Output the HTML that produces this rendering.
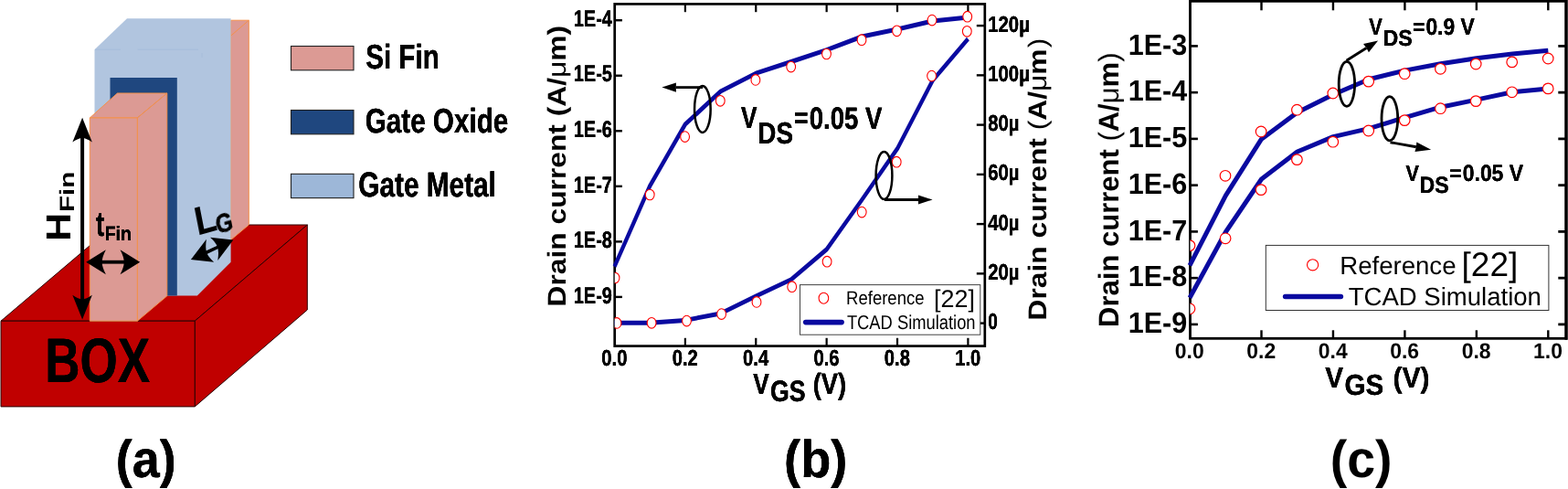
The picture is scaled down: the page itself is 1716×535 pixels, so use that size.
<!DOCTYPE html>
<html lang="en"><head><meta charset="utf-8"><title>FinFET structure and transfer characteristics</title>
<style>
html,body{margin:0;padding:0;background:#fff;}
body{width:1716px;height:535px;overflow:hidden;}
svg{display:block;font-family:'Liberation Sans', sans-serif;}
</style></head>
<body>
<svg width="1716" height="535" viewBox="0 0 1716 535" text-rendering="geometricPrecision">
<defs><filter id="fat" x="-10%" y="-30%" width="120%" height="160%"><feOffset dx="-0.5" dy="0" in="SourceGraphic" result="a"/><feOffset dx="0.5" dy="0" in="SourceGraphic" result="b"/><feMerge><feMergeNode in="a"/><feMergeNode in="b"/><feMergeNode in="SourceGraphic"/></feMerge></filter></defs>
<rect x="0" y="0" width="1716" height="535" fill="#fff"/>
<polygon points="1.00,351.20 125.00,246.00 336.30,246.00 213.20,351.20" fill="#C00000" stroke="#2a0000" stroke-width="1" stroke-linejoin="round"/>
<polygon points="213.20,351.20 336.30,246.00 336.30,339.00 213.20,444.90" fill="#C00000" stroke="#2a0000" stroke-width="1" stroke-linejoin="round"/>
<polygon points="1.00,351.20 213.20,351.20 213.20,444.90 1.00,444.90" fill="#C00000" stroke="#2a0000" stroke-width="1" stroke-linejoin="round"/>
<polygon points="252.60,22.20 272.30,22.20 272.30,246.00 252.60,262.50" fill="#DC9A94" stroke="#F4914A" stroke-width="1" stroke-linejoin="round"/>
<line x1="252.60" y1="39.20" x2="272.30" y2="22.20" stroke="#F4914A" stroke-width="1"/>
<polygon points="103.50,54.20 139.00,20.30 252.60,20.30 252.60,286.70 215.80,323.60 103.50,323.50" fill="#B1C5DF" stroke="none" stroke-width="1" stroke-linejoin="round"/>
<path d="M104 54.2 H132 M150.6 54.2 H217 M221 58 V63" stroke="#a3b9d8" stroke-width="1" fill="none" opacity="0.7"/>
<polygon points="120.50,85.00 193.80,85.00 193.80,323.50 120.50,323.50" fill="#1F477F" stroke="none" stroke-width="1" stroke-linejoin="round"/>
<polygon points="98.30,129.00 128.40,102.00 182.80,102.00 150.30,129.00" fill="#DC9A94" stroke="#F4914A" stroke-width="1" stroke-linejoin="round"/>
<polygon points="150.30,129.00 182.80,102.00 182.80,323.80 150.30,351.20" fill="#DC9A94" stroke="#F4914A" stroke-width="1" stroke-linejoin="round"/>
<polygon points="98.30,129.00 150.30,129.00 150.30,351.20 98.30,351.20" fill="#DC9A94" stroke="#F4914A" stroke-width="1" stroke-linejoin="round"/>
<g transform="translate(90.10,239.10) scale(1.0000,1) rotate(90)" fill="#000" stroke="none"><rect x="-89.10" y="-2.00" width="178.20" height="4.00"/><path d="M110.30,0 L83.60,-10.75 Q88.10,-4.30 88.10,0 Q88.10,4.30 83.60,10.75 Z"/><path d="M-110.30,0 L-83.60,-10.75 Q-88.10,-4.30 -88.10,0 Q-88.10,4.30 -83.60,10.75 Z"/></g>
<text transform="translate(76.60,263.70) scale(0.8890,1.0000) rotate(-90)" font-size="42.7" font-weight="bold" text-anchor="start" fill="#000">H</text>
<text transform="translate(81.40,232.00) scale(0.7620,1.0000) rotate(-90)" font-size="29.5" font-weight="bold" text-anchor="start" fill="#000">Fin</text>
<text transform="translate(105.00,257.90) scale(0.7314,1.0000)" font-size="37.9" font-weight="bold" text-anchor="start" fill="#000" filter="url(#fat)">t</text>
<text transform="translate(114.65,262.90) scale(0.8861,1.0000)" font-size="22.07" font-weight="bold" text-anchor="start" fill="#000" filter="url(#fat)">Fin</text>
<g transform="translate(123.70,286.70) scale(0.8400,1) rotate(0)" fill="#000" stroke="none"><rect x="-15.32" y="-1.90" width="30.64" height="3.80"/><path d="M35.12,0 L9.32,-13.50 Q14.32,-5.40 14.32,0 Q14.32,5.40 9.32,13.50 Z"/><path d="M-35.12,0 L-9.32,-13.50 Q-14.32,-5.40 -14.32,0 Q-14.32,5.40 -9.32,13.50 Z"/></g>
<g transform="translate(216.6,257.6) scale(0.84,1) rotate(-13.2)"><text font-size="44" font-weight="bold" filter="url(#fat)">L</text><text x="25.3" y="4.3" font-size="28.5" font-weight="bold" filter="url(#fat)">G</text></g>
<g transform="translate(232.10,273.30) scale(0.8400,1) rotate(-21.357212080119947)" fill="#000" stroke="none"><rect x="-8.66" y="-1.80" width="17.31" height="3.60"/><path d="M29.66,0 L2.66,-13.50 Q7.66,-5.40 7.66,0 Q7.66,5.40 2.66,13.50 Z"/><path d="M-29.66,0 L-2.66,-13.50 Q-7.66,-5.40 -7.66,0 Q-7.66,5.40 -2.66,13.50 Z"/></g>
<text transform="translate(49.25,418.10) scale(0.7722,1.0000)" font-size="68.7" font-weight="bold" text-anchor="start" fill="#000" filter="url(#fat)">BOX</text>
<rect x="318.5" y="50.5" width="68.5" height="26.3" fill="#DC9A94" stroke="#222" stroke-width="1.1"/>
<rect x="318.5" y="120.5" width="68.5" height="26.3" fill="#1F477F" stroke="#222" stroke-width="1.1"/>
<rect x="318.5" y="190.3" width="68.5" height="26.3" fill="#9DB7D8" stroke="#222" stroke-width="1.1"/>
<text transform="translate(400.20,75.00) scale(0.7849,1.0000)" font-size="37.7" font-weight="bold" text-anchor="start" fill="#000" filter="url(#fat)">Si Fin</text>
<text transform="translate(399.70,145.00) scale(0.7869,1.0000)" font-size="37.7" font-weight="bold" text-anchor="start" fill="#000" filter="url(#fat)">Gate Oxide</text>
<text transform="translate(392.30,215.10) scale(0.7798,1.0000)" font-size="38.2" font-weight="bold" text-anchor="start" fill="#000" filter="url(#fat)">Gate Metal</text>
<text transform="translate(126.70,521.60) scale(0.9406,1.0000)" font-size="57.4" font-weight="bold" text-anchor="start" fill="#000" filter="url(#fat)">(a)</text>
<rect x="672.70" y="4.40" width="405.10" height="374.20" fill="none" stroke="#000" stroke-width="2.7"/>
<line x1="672.70" y1="22.20" x2="680.90" y2="22.20" stroke="#000" stroke-width="2.4"/>
<line x1="672.70" y1="82.74" x2="680.90" y2="82.74" stroke="#000" stroke-width="2.4"/>
<line x1="672.70" y1="143.28" x2="680.90" y2="143.28" stroke="#000" stroke-width="2.4"/>
<line x1="672.70" y1="203.82" x2="680.90" y2="203.82" stroke="#000" stroke-width="2.4"/>
<line x1="672.70" y1="264.36" x2="680.90" y2="264.36" stroke="#000" stroke-width="2.4"/>
<line x1="672.70" y1="324.90" x2="680.90" y2="324.90" stroke="#000" stroke-width="2.4"/>
<line x1="1068.80" y1="28.10" x2="1077.80" y2="28.10" stroke="#000" stroke-width="2.4"/>
<line x1="1068.80" y1="82.35" x2="1077.80" y2="82.35" stroke="#000" stroke-width="2.4"/>
<line x1="1068.80" y1="136.60" x2="1077.80" y2="136.60" stroke="#000" stroke-width="2.4"/>
<line x1="1068.80" y1="190.85" x2="1077.80" y2="190.85" stroke="#000" stroke-width="2.4"/>
<line x1="1068.80" y1="245.10" x2="1077.80" y2="245.10" stroke="#000" stroke-width="2.4"/>
<line x1="1068.80" y1="299.35" x2="1077.80" y2="299.35" stroke="#000" stroke-width="2.4"/>
<line x1="1068.80" y1="353.60" x2="1077.80" y2="353.60" stroke="#000" stroke-width="2.4"/>
<line x1="749.88" y1="378.60" x2="749.88" y2="369.80" stroke="#000" stroke-width="2.2"/>
<line x1="749.88" y1="4.40" x2="749.88" y2="13.20" stroke="#000" stroke-width="2.2"/>
<line x1="827.26" y1="378.60" x2="827.26" y2="369.80" stroke="#000" stroke-width="2.2"/>
<line x1="827.26" y1="4.40" x2="827.26" y2="13.20" stroke="#000" stroke-width="2.2"/>
<line x1="904.64" y1="378.60" x2="904.64" y2="369.80" stroke="#000" stroke-width="2.2"/>
<line x1="904.64" y1="4.40" x2="904.64" y2="13.20" stroke="#000" stroke-width="2.2"/>
<line x1="982.02" y1="378.60" x2="982.02" y2="369.80" stroke="#000" stroke-width="2.2"/>
<line x1="982.02" y1="4.40" x2="982.02" y2="13.20" stroke="#000" stroke-width="2.2"/>
<line x1="1059.40" y1="378.60" x2="1059.40" y2="369.80" stroke="#000" stroke-width="2.2"/>
<line x1="1059.40" y1="4.40" x2="1059.40" y2="13.20" stroke="#000" stroke-width="2.2"/>
<text transform="translate(627.70,28.90) scale(0.7846,1.0000)" font-size="25.5" font-weight="bold" text-anchor="start" fill="#000" filter="url(#fat)">1E-4</text>
<text transform="translate(627.70,89.44) scale(0.7845,1.0000)" font-size="25.5" font-weight="bold" text-anchor="start" fill="#000" filter="url(#fat)">1E-5</text>
<text transform="translate(627.70,149.98) scale(0.7844,1.0000)" font-size="25.5" font-weight="bold" text-anchor="start" fill="#000" filter="url(#fat)">1E-6</text>
<text transform="translate(627.70,210.52) scale(0.7844,1.0000)" font-size="25.5" font-weight="bold" text-anchor="start" fill="#000" filter="url(#fat)">1E-7</text>
<text transform="translate(627.70,271.06) scale(0.7844,1.0000)" font-size="25.5" font-weight="bold" text-anchor="start" fill="#000" filter="url(#fat)">1E-8</text>
<text transform="translate(627.70,331.60) scale(0.7844,1.0000)" font-size="25.5" font-weight="bold" text-anchor="start" fill="#000" filter="url(#fat)">1E-9</text>
<text transform="translate(1081.20,34.60) scale(0.8249,1.0000)" font-size="24.7" font-weight="bold" text-anchor="start" fill="#000" filter="url(#fat)">120µ</text>
<text transform="translate(1081.20,88.85) scale(0.8249,1.0000)" font-size="24.7" font-weight="bold" text-anchor="start" fill="#000" filter="url(#fat)">100µ</text>
<text transform="translate(1081.20,143.10) scale(0.8201,1.0000)" font-size="24.7" font-weight="bold" text-anchor="start" fill="#000" filter="url(#fat)">80µ</text>
<text transform="translate(1081.20,197.35) scale(0.8200,1.0000)" font-size="24.7" font-weight="bold" text-anchor="start" fill="#000" filter="url(#fat)">60µ</text>
<text transform="translate(1081.20,251.60) scale(0.8203,1.0000)" font-size="24.7" font-weight="bold" text-anchor="start" fill="#000" filter="url(#fat)">40µ</text>
<text transform="translate(1081.20,305.85) scale(0.8200,1.0000)" font-size="24.7" font-weight="bold" text-anchor="start" fill="#000" filter="url(#fat)">20µ</text>
<text transform="translate(1081.20,360.10) scale(0.7718,1.0000)" font-size="24.7" font-weight="bold" text-anchor="start" fill="#000" filter="url(#fat)">0</text>
<text transform="translate(658.30,399.70) scale(0.8115,1.0000)" font-size="24.9" font-weight="bold" text-anchor="start" fill="#000" filter="url(#fat)">0.0</text>
<text transform="translate(735.68,399.70) scale(0.8115,1.0000)" font-size="24.9" font-weight="bold" text-anchor="start" fill="#000" filter="url(#fat)">0.2</text>
<text transform="translate(813.06,399.70) scale(0.8121,1.0000)" font-size="24.9" font-weight="bold" text-anchor="start" fill="#000" filter="url(#fat)">0.4</text>
<text transform="translate(890.44,399.70) scale(0.8116,1.0000)" font-size="24.9" font-weight="bold" text-anchor="start" fill="#000" filter="url(#fat)">0.6</text>
<text transform="translate(967.82,399.70) scale(0.8117,1.0000)" font-size="24.9" font-weight="bold" text-anchor="start" fill="#000" filter="url(#fat)">0.8</text>
<text transform="translate(1045.20,399.70) scale(0.8110,1.0000)" font-size="24.9" font-weight="bold" text-anchor="start" fill="#000" filter="url(#fat)">1.0</text>
<text transform="translate(619.30,335.50) scale(0.8850,1) rotate(-90)" font-size="31.75" font-weight="bold">Drain current <tspan font-weight="bold">(</tspan>A/<tspan font-weight="normal">μ</tspan>m<tspan font-weight="bold" dx="0">)</tspan></text>
<text transform="translate(1145.00,350.50) scale(0.8850,1) rotate(-90)" font-size="31.75" font-weight="bold">Drain current <tspan font-weight="normal">(</tspan>A/<tspan font-weight="normal">μ</tspan>m<tspan font-weight="normal" dx="1.2">)</tspan></text>
<text transform="translate(824.30,430.90) scale(0.8149,1.0000)" font-size="32.15" font-weight="bold" text-anchor="start" fill="#000" filter="url(#fat)">V</text>
<text transform="translate(842.90,438.50) scale(0.8210,1.0000)" font-size="32.6" font-weight="bold" text-anchor="start" fill="#000" filter="url(#fat)">GS</text>
<text transform="translate(889.65,430.60) scale(0.8504,1.0000)" font-size="32.2" font-weight="bold" text-anchor="start" fill="#000" filter="url(#fat)">(V)</text>
<polyline points="800.60,291.70 846.65,203.50 892.71,136.00 938.77,100.00 984.83,80.20 1030.89,67.50 1076.95,54.70 1123.01,40.00 1169.07,32.00 1215.13,23.00 1261.19,19.00" transform="scale(0.84,1)" fill="none" stroke="#0A0AA0" stroke-width="5.0" stroke-linejoin="round" stroke-linecap="butt"/>
<polyline points="800.60,353.30 846.65,353.30 892.71,350.40 938.77,343.00 984.83,324.00 1030.89,305.70 1076.95,272.90 1123.01,218.50 1169.07,162.70 1215.13,88.00 1261.19,42.50" transform="scale(0.84,1)" fill="none" stroke="#0A0AA0" stroke-width="5.0" stroke-linejoin="round" stroke-linecap="butt"/>
<clipPath id="cb"><rect x="672.7" y="0" width="500" height="400"/></clipPath>
<g clip-path="url(#cb)">
<ellipse cx="673.00" cy="304.00" rx="4.9" ry="5.8" fill="#fff" stroke="#FF0000" stroke-width="1.1"/>
<ellipse cx="711.20" cy="213.00" rx="4.9" ry="5.8" fill="#fff" stroke="#FF0000" stroke-width="1.1"/>
<ellipse cx="749.60" cy="149.60" rx="4.9" ry="5.8" fill="#fff" stroke="#FF0000" stroke-width="1.1"/>
<ellipse cx="788.30" cy="110.30" rx="4.9" ry="5.8" fill="#fff" stroke="#FF0000" stroke-width="1.1"/>
<ellipse cx="826.90" cy="87.40" rx="4.9" ry="5.8" fill="#fff" stroke="#FF0000" stroke-width="1.1"/>
<ellipse cx="865.70" cy="73.10" rx="4.9" ry="5.8" fill="#fff" stroke="#FF0000" stroke-width="1.1"/>
<ellipse cx="904.50" cy="59.00" rx="4.9" ry="5.8" fill="#fff" stroke="#FF0000" stroke-width="1.1"/>
<ellipse cx="943.00" cy="43.70" rx="4.9" ry="5.8" fill="#fff" stroke="#FF0000" stroke-width="1.1"/>
<ellipse cx="981.50" cy="33.80" rx="4.9" ry="5.8" fill="#fff" stroke="#FF0000" stroke-width="1.1"/>
<ellipse cx="1020.00" cy="22.10" rx="4.9" ry="5.8" fill="#fff" stroke="#FF0000" stroke-width="1.1"/>
<ellipse cx="1058.70" cy="18.20" rx="4.9" ry="5.8" fill="#fff" stroke="#FF0000" stroke-width="1.1"/>
<ellipse cx="675.00" cy="353.40" rx="4.9" ry="5.8" fill="#fff" stroke="#FF0000" stroke-width="1.1"/>
<ellipse cx="713.10" cy="353.30" rx="4.9" ry="5.8" fill="#fff" stroke="#FF0000" stroke-width="1.1"/>
<ellipse cx="751.50" cy="351.10" rx="4.9" ry="5.8" fill="#fff" stroke="#FF0000" stroke-width="1.1"/>
<ellipse cx="789.60" cy="343.60" rx="4.9" ry="5.8" fill="#fff" stroke="#FF0000" stroke-width="1.1"/>
<ellipse cx="828.00" cy="330.40" rx="4.9" ry="5.8" fill="#fff" stroke="#FF0000" stroke-width="1.1"/>
<ellipse cx="866.70" cy="313.70" rx="4.9" ry="5.8" fill="#fff" stroke="#FF0000" stroke-width="1.1"/>
<ellipse cx="905.10" cy="286.20" rx="4.9" ry="5.8" fill="#fff" stroke="#FF0000" stroke-width="1.1"/>
<ellipse cx="943.20" cy="232.10" rx="4.9" ry="5.8" fill="#fff" stroke="#FF0000" stroke-width="1.1"/>
<ellipse cx="981.20" cy="177.20" rx="4.9" ry="5.8" fill="#fff" stroke="#FF0000" stroke-width="1.1"/>
<ellipse cx="1019.60" cy="83.10" rx="4.9" ry="5.8" fill="#fff" stroke="#FF0000" stroke-width="1.1"/>
<ellipse cx="1058.30" cy="34.30" rx="4.9" ry="5.8" fill="#fff" stroke="#FF0000" stroke-width="1.1"/>
</g>
<rect x="875.5" y="311.6" width="197.3" height="54.6" fill="#fff" stroke="#444" stroke-width="1"/>
<ellipse cx="901.40" cy="326.20" rx="5.3" ry="6.0" fill="#fff" stroke="#FF0000" stroke-width="1.1"/>
<text transform="translate(926.10,333.10) scale(0.8920,1.0000)" font-size="20.75" font-weight="normal" text-anchor="start" fill="#000">Reference</text>
<text transform="translate(1022.00,336.00)" font-size="26.9" font-weight="normal" text-anchor="start" fill="#000">[22]</text>
<line x1="881.7" y1="352.6" x2="921.1" y2="352.6" stroke="#0A0AA0" stroke-width="5.6" stroke-linecap="round"/>
<text transform="translate(926.90,360.00) scale(0.8480,1.0000)" font-size="21.63" font-weight="normal" text-anchor="start" fill="#000">TCAD Simulation</text>
<ellipse cx="768.85" cy="119.40" rx="8.8" ry="25.5" fill="none" stroke="#000" stroke-width="2.5" transform="rotate(0 768.85 119.40)"/>
<line x1="769.00" y1="95.60" x2="739.90" y2="95.60" stroke="#000" stroke-width="2.8"/>
<polygon points="724.40,95.60 739.90,100.80 739.90,95.60 739.90,90.40" fill="#000" stroke="none" stroke-width="1" stroke-linejoin="round"/>
<ellipse cx="967.50" cy="192.00" rx="8.9" ry="26.1" fill="none" stroke="#000" stroke-width="2.5" transform="rotate(0 967.50 192.00)"/>
<line x1="968.00" y1="218.50" x2="1005.00" y2="218.50" stroke="#000" stroke-width="2.8"/>
<polygon points="1020.50,218.50 1005.00,213.40 1005.00,218.50 1005.00,223.60" fill="#000" stroke="none" stroke-width="1" stroke-linejoin="round"/>
<text transform="translate(811.10,140.30) scale(0.7928,1.0000)" font-size="33.0" font-weight="bold" text-anchor="start" fill="#000" filter="url(#fat)">V</text>
<text transform="translate(829.30,157.00) scale(0.8382,1.0000)" font-size="33.2" font-weight="bold" text-anchor="start" fill="#000" filter="url(#fat)">DS</text>
<text transform="translate(869.00,139.00) scale(0.7942,0.9000)" font-size="33.5" font-weight="bold" text-anchor="start" fill="#000" filter="url(#fat)">=</text>
<text transform="translate(885.70,140.70) scale(0.8147,1.0000)" font-size="33.9" font-weight="bold" text-anchor="start" fill="#000" filter="url(#fat)">0.05 V</text>
<text transform="translate(858.10,521.80) scale(0.9442,1.0000)" font-size="57.4" font-weight="bold" text-anchor="start" fill="#000" filter="url(#fat)">(b)</text>
<rect x="1302.50" y="1.30" width="411.40" height="369.00" fill="none" stroke="#000" stroke-width="2.8"/>
<line x1="1714.10" y1="-0.10" x2="1714.10" y2="371.70" stroke="#000" stroke-width="3.2"/>
<line x1="1302.50" y1="50.40" x2="1310.90" y2="50.40" stroke="#000" stroke-width="2.6"/>
<line x1="1705.30" y1="50.40" x2="1713.90" y2="50.40" stroke="#000" stroke-width="2.8"/>
<line x1="1302.50" y1="101.15" x2="1310.90" y2="101.15" stroke="#000" stroke-width="2.6"/>
<line x1="1705.30" y1="101.15" x2="1713.90" y2="101.15" stroke="#000" stroke-width="2.8"/>
<line x1="1302.50" y1="151.90" x2="1310.90" y2="151.90" stroke="#000" stroke-width="2.6"/>
<line x1="1705.30" y1="151.90" x2="1713.90" y2="151.90" stroke="#000" stroke-width="2.8"/>
<line x1="1302.50" y1="202.65" x2="1310.90" y2="202.65" stroke="#000" stroke-width="2.6"/>
<line x1="1705.30" y1="202.65" x2="1713.90" y2="202.65" stroke="#000" stroke-width="2.8"/>
<line x1="1302.50" y1="253.40" x2="1310.90" y2="253.40" stroke="#000" stroke-width="2.6"/>
<line x1="1705.30" y1="253.40" x2="1713.90" y2="253.40" stroke="#000" stroke-width="2.8"/>
<line x1="1302.50" y1="304.15" x2="1310.90" y2="304.15" stroke="#000" stroke-width="2.6"/>
<line x1="1705.30" y1="304.15" x2="1713.90" y2="304.15" stroke="#000" stroke-width="2.8"/>
<line x1="1302.50" y1="354.90" x2="1310.90" y2="354.90" stroke="#000" stroke-width="2.6"/>
<line x1="1705.30" y1="354.90" x2="1713.90" y2="354.90" stroke="#000" stroke-width="2.8"/>
<line x1="1380.50" y1="370.30" x2="1380.50" y2="361.30" stroke="#000" stroke-width="2.4"/>
<line x1="1380.50" y1="1.30" x2="1380.50" y2="11.30" stroke="#000" stroke-width="2.4"/>
<line x1="1458.95" y1="370.30" x2="1458.95" y2="361.30" stroke="#000" stroke-width="2.4"/>
<line x1="1458.95" y1="1.30" x2="1458.95" y2="11.30" stroke="#000" stroke-width="2.4"/>
<line x1="1537.40" y1="370.30" x2="1537.40" y2="361.30" stroke="#000" stroke-width="2.4"/>
<line x1="1537.40" y1="1.30" x2="1537.40" y2="11.30" stroke="#000" stroke-width="2.4"/>
<line x1="1615.85" y1="370.30" x2="1615.85" y2="361.30" stroke="#000" stroke-width="2.4"/>
<line x1="1615.85" y1="1.30" x2="1615.85" y2="11.30" stroke="#000" stroke-width="2.4"/>
<line x1="1694.30" y1="370.30" x2="1694.30" y2="361.30" stroke="#000" stroke-width="2.4"/>
<line x1="1694.30" y1="1.30" x2="1694.30" y2="11.30" stroke="#000" stroke-width="2.4"/>
<text transform="translate(1234.70,59.60) scale(0.9500,1.0000)" font-size="32.15" font-weight="bold" text-anchor="start" fill="#000">1E-3</text>
<text transform="translate(1234.70,110.35) scale(0.9500,1.0000)" font-size="32.15" font-weight="bold" text-anchor="start" fill="#000">1E-4</text>
<text transform="translate(1234.70,161.10) scale(0.9500,1.0000)" font-size="32.15" font-weight="bold" text-anchor="start" fill="#000">1E-5</text>
<text transform="translate(1234.70,211.85) scale(0.9500,1.0000)" font-size="32.15" font-weight="bold" text-anchor="start" fill="#000">1E-6</text>
<text transform="translate(1234.70,262.60) scale(0.9500,1.0000)" font-size="32.15" font-weight="bold" text-anchor="start" fill="#000">1E-7</text>
<text transform="translate(1234.70,313.35) scale(0.9500,1.0000)" font-size="32.15" font-weight="bold" text-anchor="start" fill="#000">1E-8</text>
<text transform="translate(1234.70,364.10) scale(0.9500,1.0000)" font-size="32.15" font-weight="bold" text-anchor="start" fill="#000">1E-9</text>
<text transform="translate(1285.85,392.46) scale(0.9660,1.0000)" font-size="23.75" font-weight="bold" text-anchor="start" fill="#000">0.0</text>
<text transform="translate(1364.30,392.46) scale(0.9660,1.0000)" font-size="23.75" font-weight="bold" text-anchor="start" fill="#000">0.2</text>
<text transform="translate(1442.75,392.46) scale(0.9660,1.0000)" font-size="23.75" font-weight="bold" text-anchor="start" fill="#000">0.4</text>
<text transform="translate(1521.20,392.46) scale(0.9660,1.0000)" font-size="23.75" font-weight="bold" text-anchor="start" fill="#000">0.6</text>
<text transform="translate(1599.65,392.46) scale(0.9660,1.0000)" font-size="23.75" font-weight="bold" text-anchor="start" fill="#000">0.8</text>
<text transform="translate(1678.10,392.46) scale(0.9660,1.0000)" font-size="23.75" font-weight="bold" text-anchor="start" fill="#000">1.0</text>
<text transform="translate(1224.40,357.90) scale(1.0000,1) rotate(-90)" font-size="31.0" font-weight="bold">Drain current <tspan font-weight="normal">(</tspan>A/<tspan font-weight="normal">μ</tspan>m<tspan font-weight="normal" dx="0">)</tspan></text>
<text transform="translate(1450.30,424.00) scale(0.9338,1.0000)" font-size="31.85" font-weight="bold" text-anchor="start" fill="#000" filter="url(#fat)">V</text>
<text transform="translate(1471.40,431.50) scale(0.9308,1.0000)" font-size="31.8" font-weight="bold" text-anchor="start" fill="#000" filter="url(#fat)">GS</text>
<text transform="translate(1524.40,423.70) scale(0.9479,1.0000)" font-size="31.85" font-weight="bold" text-anchor="start" fill="#000" filter="url(#fat)">(V)</text>
<polyline points="1302.05,290.40 1341.27,214.20 1380.50,152.20 1419.72,123.00 1458.95,103.50 1498.17,86.70 1537.40,77.10 1576.62,69.70 1615.85,63.70 1655.08,58.90 1694.30,55.30" fill="none" stroke="#0A0AA0" stroke-width="5" stroke-linejoin="round" stroke-linecap="butt"/>
<polyline points="1302.05,325.70 1341.27,254.00 1380.50,196.00 1419.72,166.00 1458.95,149.60 1498.17,140.60 1537.40,128.60 1576.62,117.20 1615.85,109.10 1655.08,100.80 1694.30,96.90" fill="none" stroke="#0A0AA0" stroke-width="5" stroke-linejoin="round" stroke-linecap="butt"/>
<clipPath id="cc"><rect x="1302.5" y="0" width="500" height="400"/></clipPath>
<g clip-path="url(#cc)">
<ellipse cx="1302.00" cy="268.60" rx="5.8" ry="5.8" fill="#fff" stroke="#FF0000" stroke-width="1.2"/>
<ellipse cx="1341.00" cy="192.30" rx="5.8" ry="5.8" fill="#fff" stroke="#FF0000" stroke-width="1.2"/>
<ellipse cx="1380.10" cy="144.00" rx="5.8" ry="5.8" fill="#fff" stroke="#FF0000" stroke-width="1.2"/>
<ellipse cx="1419.40" cy="120.20" rx="5.8" ry="5.8" fill="#fff" stroke="#FF0000" stroke-width="1.2"/>
<ellipse cx="1458.80" cy="102.00" rx="5.8" ry="5.8" fill="#fff" stroke="#FF0000" stroke-width="1.2"/>
<ellipse cx="1497.70" cy="89.10" rx="5.8" ry="5.8" fill="#fff" stroke="#FF0000" stroke-width="1.2"/>
<ellipse cx="1537.20" cy="80.70" rx="5.8" ry="5.8" fill="#fff" stroke="#FF0000" stroke-width="1.2"/>
<ellipse cx="1576.40" cy="75.30" rx="5.8" ry="5.8" fill="#fff" stroke="#FF0000" stroke-width="1.2"/>
<ellipse cx="1615.20" cy="70.00" rx="5.8" ry="5.8" fill="#fff" stroke="#FF0000" stroke-width="1.2"/>
<ellipse cx="1654.70" cy="67.90" rx="5.8" ry="5.8" fill="#fff" stroke="#FF0000" stroke-width="1.2"/>
<ellipse cx="1694.20" cy="64.00" rx="5.8" ry="5.8" fill="#fff" stroke="#FF0000" stroke-width="1.2"/>
<ellipse cx="1302.00" cy="337.80" rx="5.8" ry="5.8" fill="#fff" stroke="#FF0000" stroke-width="1.2"/>
<ellipse cx="1341.10" cy="260.80" rx="5.8" ry="5.8" fill="#fff" stroke="#FF0000" stroke-width="1.2"/>
<ellipse cx="1380.10" cy="207.60" rx="5.8" ry="5.8" fill="#fff" stroke="#FF0000" stroke-width="1.2"/>
<ellipse cx="1419.40" cy="174.60" rx="5.8" ry="5.8" fill="#fff" stroke="#FF0000" stroke-width="1.2"/>
<ellipse cx="1458.80" cy="155.20" rx="5.8" ry="5.8" fill="#fff" stroke="#FF0000" stroke-width="1.2"/>
<ellipse cx="1497.70" cy="143.00" rx="5.8" ry="5.8" fill="#fff" stroke="#FF0000" stroke-width="1.2"/>
<ellipse cx="1537.20" cy="131.60" rx="5.8" ry="5.8" fill="#fff" stroke="#FF0000" stroke-width="1.2"/>
<ellipse cx="1576.40" cy="118.70" rx="5.8" ry="5.8" fill="#fff" stroke="#FF0000" stroke-width="1.2"/>
<ellipse cx="1615.20" cy="110.60" rx="5.8" ry="5.8" fill="#fff" stroke="#FF0000" stroke-width="1.2"/>
<ellipse cx="1654.70" cy="100.80" rx="5.8" ry="5.8" fill="#fff" stroke="#FF0000" stroke-width="1.2"/>
<ellipse cx="1694.20" cy="96.90" rx="5.8" ry="5.8" fill="#fff" stroke="#FF0000" stroke-width="1.2"/>
</g>
<rect x="1385.3" y="268.4" width="309.6" height="71.1" fill="#fff" stroke="#333" stroke-width="1"/>
<ellipse cx="1436.60" cy="289.80" rx="6.1" ry="6.1" fill="#fff" stroke="#FF0000" stroke-width="1.1"/>
<text transform="translate(1466.20,299.50)" font-size="27.6" font-weight="normal" text-anchor="start" fill="#000">Reference</text>
<text transform="translate(1599.50,301.60)" font-size="37.1" font-weight="normal" text-anchor="start" fill="#000">[22]</text>
<line x1="1406.6" y1="324.4" x2="1467.4" y2="324.4" stroke="#0A0AA0" stroke-width="5.5" stroke-linecap="round"/>
<text transform="translate(1475.70,333.90) scale(0.9925,1.0000)" font-size="27.76" font-weight="normal" text-anchor="start" fill="#000">TCAD Simulation</text>
<ellipse cx="1473.90" cy="91.80" rx="8.7" ry="24.5" fill="none" stroke="#000" stroke-width="2.8" transform="rotate(0 1473.90 91.80)"/>
<line x1="1473.60" y1="66.20" x2="1495.42" y2="52.41" stroke="#000" stroke-width="2.9"/>
<polygon points="1508.10,44.40 1492.06,48.03 1495.42,52.41 1497.93,57.33" fill="#000" stroke="none" stroke-width="1" stroke-linejoin="round"/>
<ellipse cx="1520.85" cy="129.75" rx="8.85" ry="24.1" fill="none" stroke="#000" stroke-width="2.8" transform="rotate(0 1520.85 129.75)"/>
<line x1="1521.50" y1="155.70" x2="1549.86" y2="160.79" stroke="#000" stroke-width="2.9"/>
<polygon points="1566.10,163.70 1550.30,155.48 1549.86,160.79 1548.43,165.92" fill="#000" stroke="none" stroke-width="1" stroke-linejoin="round"/>
<text transform="translate(1498.30,37.80) scale(0.8539,1.0000)" font-size="25.45" font-weight="bold" text-anchor="start" fill="#000" filter="url(#fat)">V</text>
<text transform="translate(1513.40,50.20) scale(0.9361,1.0000)" font-size="24.8" font-weight="bold" text-anchor="start" fill="#000" filter="url(#fat)">DS</text>
<text transform="translate(1546.00,37.00) scale(0.8981,0.8800)" font-size="25.6" font-weight="bold" text-anchor="start" fill="#000" filter="url(#fat)">=</text>
<text transform="translate(1560.40,38.00) scale(0.8898,1.0000)" font-size="25.7" font-weight="bold" text-anchor="start" fill="#000" filter="url(#fat)">0.9 V</text>
<text transform="translate(1538.40,198.10) scale(0.8691,1.0000)" font-size="24.9" font-weight="bold" text-anchor="start" fill="#000" filter="url(#fat)">V</text>
<text transform="translate(1553.60,210.95) scale(0.9116,1.0000)" font-size="25.4" font-weight="bold" text-anchor="start" fill="#000" filter="url(#fat)">DS</text>
<text transform="translate(1586.30,197.00) scale(0.8978,0.8800)" font-size="25.4" font-weight="bold" text-anchor="start" fill="#000" filter="url(#fat)">=</text>
<text transform="translate(1600.80,198.45) scale(0.8997,1.0000)" font-size="25.44" font-weight="bold" text-anchor="start" fill="#000" filter="url(#fat)">0.05 V</text>
<text transform="translate(1455.70,522.20) scale(0.9670,1.0000)" font-size="57.4" font-weight="bold" text-anchor="start" fill="#000">(c)</text>
</svg>
</body></html>
